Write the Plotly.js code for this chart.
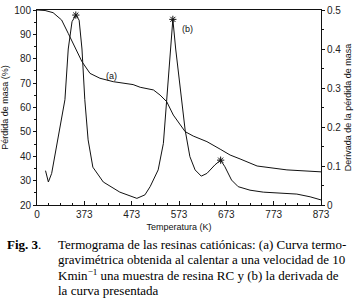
<!DOCTYPE html>
<html><head><meta charset="utf-8">
<script src="https://cdn.plot.ly/plotly-3.0.1.min.js"></script>
<style>html,body{margin:0;padding:0;background:#fff}#chart{width:354px;height:301px}</style>
</head><body><div id="chart"></div>
<script>
// (a) TG curve: mass loss (%) vs temperature (K)
const tgTemp = [273, 290, 307, 325, 339, 353, 364, 368, 385, 406, 434, 476, 491, 519, 533, 547, 561, 575, 586, 603, 632, 660, 681, 702, 738, 801, 873];
const tgMass = [100, 99.8, 98.9, 95.9, 90.4, 84.9, 80.2, 78.8, 74.0, 72.0, 70.6, 69.4, 68.3, 67.2, 65.1, 62.4, 56.9, 52.8, 50.1, 48.3, 46.0, 42.9, 40.5, 38.9, 36.0, 34.4, 33.6];
// (b) DTG curve: derivative of mass loss vs temperature (K)
const dtgTemp = [291, 297, 304, 315, 326, 332, 339, 347, 355, 362, 368, 374, 381, 391, 413, 448, 484, 501, 512, 529, 540, 547, 553, 560, 566, 569, 579, 586, 596, 607, 620, 632, 649, 661, 670, 684, 698, 723, 751, 822, 850, 873];
const dtgDeriv = [0.088, 0.059, 0.081, 0.159, 0.226, 0.27, 0.40, 0.47, 0.487, 0.474, 0.40, 0.27, 0.167, 0.097, 0.059, 0.033, 0.017, 0.026, 0.047, 0.09, 0.158, 0.27, 0.372, 0.476, 0.40, 0.37, 0.27, 0.192, 0.124, 0.09, 0.074, 0.081, 0.103, 0.115, 0.098, 0.064, 0.047, 0.038, 0.033, 0.028, 0.021, 0.013];
// marked peaks of (b)
const peakTemp = [355, 560, 661];
const peakDeriv = [0.487, 0.476, 0.115];
// x tick labels
const xTickVals = [273, 373, 473, 573, 673, 773, 873];
const xTickText = ["0", "373", "473", "573", "673", "773", "873"];
// caption
const captionHead = "<b>Fig. 3</b>.";
const captionLines = [
  "Termograma de las resinas catiónicas: (a) Curva termo-",
  "gravimétrica obtenida al calentar a una velocidad de 10",
  "Kmin<sup>−1</sup> una muestra de resina RC y (b) la derivada de",
  "la curva presentada"
];

const W = 354, H = 301, L = 37, R = 33, T = 10, B = 96;
const pw = W - L - R, ph = H - T - B;
const px2paper = x => (x - L) / pw;
const py2paper = y => (H - B - y) / ph;

const sans = "Liberation Sans, Arial, sans-serif";
const serif = "Liberation Serif, Times New Roman, serif";

const traces = [
  {x: tgTemp, y: tgMass, type: 'scatter', mode: 'lines', line: {color: '#111', width: 1}, yaxis: 'y', hoverinfo: 'skip'},
  {x: dtgTemp, y: dtgDeriv, type: 'scatter', mode: 'lines', line: {color: '#111', width: 1}, yaxis: 'y2', hoverinfo: 'skip'},
  {x: peakTemp, y: peakDeriv, type: 'scatter', mode: 'markers', yaxis: 'y2',
   marker: {symbol: 'asterisk-open', size: 6, color: '#111', line: {color: '#111', width: 1}}, hoverinfo: 'skip'}
];

const captionY = [244, 259.5, 275, 290.5];
const annotations = [
  {x: 431, y: 72.8, xref: 'x', yref: 'y', text: '(a)', showarrow: false, font: {family: sans, size: 9, color: '#111'}},
  {x: 590, y: 92.3, xref: 'x', yref: 'y', text: '(b)', showarrow: false, font: {family: sans, size: 9, color: '#111'}},
  {x: px2paper(5), y: py2paper(captionY[0]), xref: 'paper', yref: 'paper', xanchor: 'left', yanchor: 'middle',
   text: captionHead, showarrow: false, font: {family: serif, size: 13, color: '#000'}}
];
captionLines.forEach((t, i) => annotations.push({
  x: px2paper(56), y: py2paper(captionY[i]), xref: 'paper', yref: 'paper', xanchor: 'left', yanchor: 'middle',
  text: t, showarrow: false, font: {family: serif, size: 13, color: '#000'}
}));

const layout = {
  width: W, height: H,
  margin: {l: L, r: R, t: T, b: B, pad: 0},
  paper_bgcolor: '#fff', plot_bgcolor: '#fff',
  showlegend: false,
  font: {family: sans, size: 10, color: '#222'},
  xaxis: {
    range: [273, 873], tickvals: xTickVals, ticktext: xTickText,
    showgrid: false, zeroline: false, showline: true, linecolor: '#111', linewidth: 1, mirror: true,
    ticks: 'inside', ticklen: 4, tickcolor: '#111',
    minor: {dtick: 25, tick0: 273, ticks: 'inside', ticklen: 2, tickcolor: '#111'},
    tickfont: {family: sans, size: 10, color: '#222'},
    title: {text: 'Temperatura (K)', font: {family: sans, size: 9, color: '#111'}, standoff: 4}
  },
  yaxis: {
    range: [20, 100], dtick: 10, tick0: 20,
    showgrid: false, zeroline: false, showline: true, linecolor: '#111', linewidth: 1,
    ticks: 'outside', ticklen: 3, tickcolor: '#111',
    minor: {dtick: 5, ticks: 'outside', ticklen: 2, tickcolor: '#111'},
    tickfont: {family: sans, size: 10, color: '#222'},
    title: {text: 'Pérdida de masa (%)', font: {family: sans, size: 9, color: '#111'}, standoff: 4}
  },
  yaxis2: {
    range: [0, 0.5], dtick: 0.1, tick0: 0, overlaying: 'y', side: 'right',
    showgrid: false, zeroline: false, showline: true, linecolor: '#111', linewidth: 1,
    ticks: 'outside', ticklen: 3, tickcolor: '#111',
    minor: {dtick: 0.05, ticks: 'outside', ticklen: 2, tickcolor: '#111'},
    tickfont: {family: sans, size: 10, color: '#222'},
    title: {text: 'Derivada de la pérdida de masa', font: {family: sans, size: 9, color: '#111'}, standoff: 4}
  },
  annotations: annotations
};

Plotly.newPlot('chart', traces, layout, {staticPlot: true, displayModeBar: false});
</script>
</body></html>
